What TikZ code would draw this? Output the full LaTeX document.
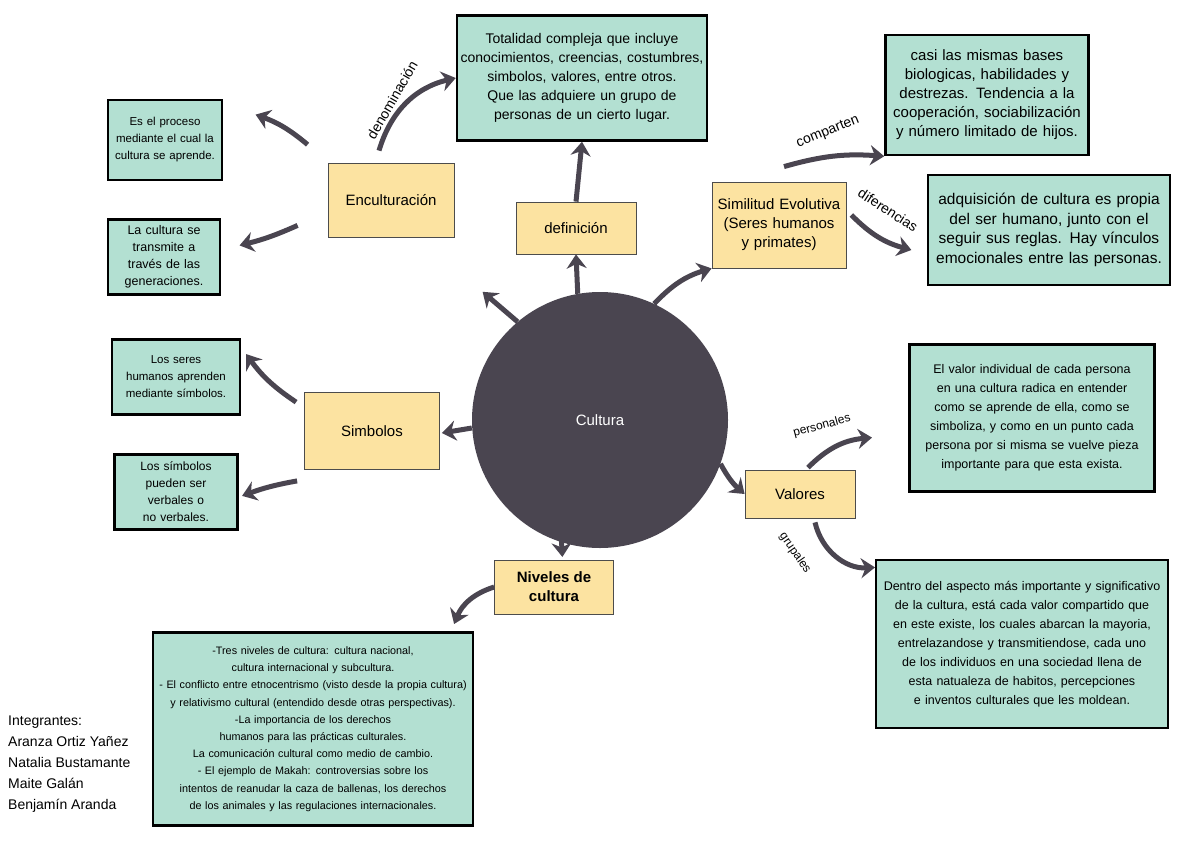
\documentclass[tikz,border=0pt]{standalone}
\usepackage{fontspec}
\setmainfont{Liberation Sans}
\usetikzlibrary{arrows.meta,positioning}
\definecolor{teal}{HTML}{B3E0D2}
\definecolor{ylw}{HTML}{FCE3A1}
\definecolor{ink}{HTML}{4A4550}
\tikzset{
  every node/.style={execute at begin node={\hyphenpenalty=10000\exhyphenpenalty=10000}},
  note/.style={draw=black,line width=2.5pt,fill=teal,align=center,inner sep=2pt},
  topic/.style={draw=black!70,line width=0.8pt,fill=ylw,align=center,inner sep=2pt},
  link/.style={draw=ink,line width=5pt,-{Stealth[length=14pt,width=20pt]}},
  lbl/.style={font=\fontsize{14}{16}\selectfont}
}
\begin{document}
\begin{tikzpicture}[x=1pt,y=-1pt]
    \useasboundingbox (0,0) rectangle (1200,849);
    % centre
    \node (cultura) [circle,fill=ink,minimum size=256pt,text=white,font=\fontsize{15}{17}\selectfont] at (600,420) {Cultura};
    % topics
    \node (definicion) [topic,minimum width=120pt,minimum height=52pt,font=\fontsize{15}{17}\selectfont] at (576,228) {definición};
    \node (encult) [topic,minimum width=126pt,minimum height=74pt,font=\fontsize{15}{17}\selectfont] at (391,200) {Enculturación};
    \node (similitud) [topic,minimum width=134pt,minimum height=86pt,text width=124pt,font=\fontsize{15}{19}\selectfont] at (779,225) {Similitud Evolutiva (Seres humanos y primates)};
    \node (simbolos) [topic,minimum width=135pt,minimum height=77pt,font=\fontsize{15}{17}\selectfont] at (372,431) {Simbolos};
    \node (valores) [topic,minimum width=110pt,minimum height=48pt,font=\fontsize{15}{17}\selectfont] at (800,494) {Valores};
    \node (niveles) [topic,minimum width=119pt,minimum height=54pt,font=\bfseries\fontsize{15}{19}\selectfont] at (554,587) {Niveles de\\cultura};
    % notes
    \node (defbox) [note,minimum width=248pt,minimum height=125pt,text width=246pt,font=\fontsize{14}{19}\selectfont] at (582,78) {Totalidad compleja que incluye conocimientos, creencias, costumbres, simbolos, valores, entre otros. Que las adquiere un grupo de personas de un cierto lugar.};
    \node (proceso) [note,minimum width=114pt,minimum height=80pt,text width=106pt,font=\fontsize{11.5}{17}\selectfont] at (165,140) {Es el proceso mediante el cual la cultura se aprende.};
    \node (transmite) [note,minimum width=112pt,minimum height=75pt,text width=100pt,font=\fontsize{12.5}{17}\selectfont] at (164,257) {La cultura se transmite a través de las generaciones.};
    \node (seres) [note,minimum width=127pt,minimum height=75pt,text width=124pt,font=\fontsize{11.5}{17}\selectfont] at (176,377) {Los seres humanos aprenden mediante símbolos.};
    \node (losimb) [note,minimum width=123pt,minimum height=75pt,text width=100pt,font=\fontsize{12}{17}\selectfont] at (176,492) {Los símbolos pueden ser verbales o no verbales.};
    \node (casi) [note,minimum width=201pt,minimum height=120pt,text width=199pt,font=\fontsize{15}{19}\selectfont] at (987,95) {casi las mismas bases biologicas, habilidades y destrezas. Tendencia a la cooperación, sociabilización y número limitado de hijos.};
    \node (adquis) [note,minimum width=242pt,minimum height=110pt,text width=238pt,font=\fontsize{15.5}{19.5}\selectfont] at (1049,230) {adquisición de cultura es propia del ser humano, junto con el seguir sus reglas. Hay vínculos emocionales entre las personas.};
    \node (valor) [note,minimum width=245pt,minimum height=147pt,text width=240pt,font=\fontsize{12.5}{19}\selectfont] at (1032,418) {El valor individual de cada persona en una cultura radica en entender como se aprende de ella, como se simboliza, y como en un punto cada persona por si misma se vuelve pieza importante para que esta exista.};
    \node (dentro) [note,minimum width=292pt,minimum height=168pt,text width=288pt,font=\fontsize{12.5}{19}\selectfont] at (1022,644) {Dentro del aspecto más importante y significativo de la cultura, está cada valor compartido que en este existe, los cuales abarcan la mayoria, entrelazandose y transmitiendose, cada uno de los individuos en una sociedad llena de esta natualeza de habitos, percepciones e inventos culturales que les moldean.};
    \node (nivtext) [note,minimum width=317pt,minimum height=193pt,text width=316pt,font=\fontsize{10.8}{17.2}\selectfont] at (313,729) {-Tres niveles de cultura: cultura nacional, cultura internacional y subcultura.\\- El conflicto entre etnocentrismo (visto desde la propia cultura) y relativismo cultural (entendido desde otras perspectivas).\\-La importancia de los derechos humanos para las prácticas culturales.\\La comunicación cultural como medio de cambio.\\- El ejemplo de Makah: controversias sobre los intentos de reanudar la caza de ballenas, los derechos de los animales y las regulaciones internacionales.};
    \node (integr) [anchor=north west,align=left,inner sep=0pt,font=\fontsize{14}{21}\selectfont] at (8,716) {Integrantes:\\Aranza Ortiz Yañez\\Natalia Bustamante\\Maite Galán\\Benjamín Aranda};
    % arrows from the circle
    \draw [link] (cultura.100) -- (definicion.south);
    \draw [link] (cultura.65) to[bend left=15] (similitud.south west);
    \draw [link] (cultura.130) -- ++(-35,-30);
    \draw [link] (cultura.west) ++(0,8) -- ++(-30,5);
    \draw [link] (cultura.-20) to[bend right=10] (valores.west);
    \draw [link] (cultura.-108) ++(0,-20) -- ++(2,35);
    % arrows from the topics
    \draw [link] (definicion.north) -- (defbox.south);
    \draw [link] (encult.north west) ++(-20,-18) to[bend right=10] ++(-52,-30);
    \draw [link] (encult.south west) ++(-30,-12) to[bend left=5] ++(-58,20);
    \draw [link] (encult.north) ++(-12,-12) to[bend left=30] (defbox.west);
    \draw [link] (simbolos.north west) ++(-8,10) to[bend left=10] ++(-50,-48);
    \draw [link] (simbolos.south west) ++(-7,11) to[bend right=5] ++(-55,15);
    \draw [link] (niveles.west) to[bend right=25] ++(-40,37);
    \draw [link] (similitud.north) ++(5,-15) to[bend left=10] (casi.south west);
    \draw [link] (similitud.east) ++(5,-10) to[bend right=15] ++(60,35);
    \draw [link] (valores.north) ++(8,-2) to[bend left=20] ++(64,-30);
    \draw [link] (valores.south) ++(15,4) to[bend right=40] ++(60,45);
    % edge labels
    \node [lbl,rotate=60] at (392,100) {denominación};
    \node [lbl,rotate=22] at (828,132) {comparten};
    \node [lbl,rotate=-33] at (888,210) {diferencias};
    \node [font=\fontsize{12}{14}\selectfont,rotate=15] at (822,426) {personales};
    \node [font=\fontsize{12}{14}\selectfont,rotate=-55] at (795,553) {grupales};
\end{tikzpicture}
\end{document}
